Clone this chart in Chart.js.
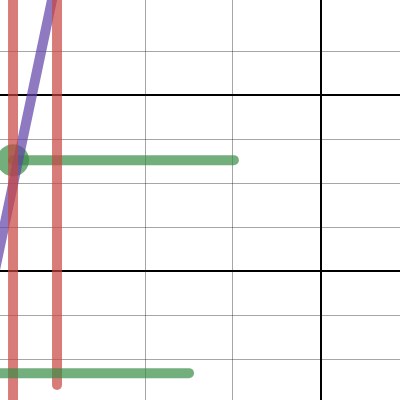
<!DOCTYPE html>
<html><head><style>html,body{margin:0;padding:0;background:#fff}</style>
<script src="https://cdn.jsdelivr.net/npm/chart.js@4/dist/chart.umd.min.js"></script></head>
<body><canvas id="c" width="400" height="400" style="width:400px;height:400px"></canvas>
<script>
const xRange=[-3.648,0.898];
const yRange=[-6.93,2.159];
const redLine1=[{x:-3.5,y:-9},{x:-3.5,y:3}];
const redLine2=[{x:-3,y:-6.59},{x:-3,y:3}];
const purpleLine=[{x:-3.75,y:-4.4},{x:-3.0,y:2.7}];
const greenPoint=[{x:-3.5,y:-1.48}];
const greenLine1=[{x:-3.5,y:-1.48},{x:-0.99,y:-1.48}];
const greenLine2=[{x:-3.8,y:-6.32},{x:-1.5,y:-6.32}];
const red='rgba(199,68,64,0.7)',purple='rgba(96,66,166,0.7)',green='rgba(56,140,70,0.7)';
function ln(data,color){return {data,showLine:true,borderColor:color,borderWidth:10,borderCapStyle:'round',pointRadius:0,fill:false};}
const gridColor=(major)=>ctx=>{const v=ctx.tick.value;if(Math.abs(v-Math.round(v))>1e-6)return 'rgba(0,0,0,0)';return major(Math.round(v))?'#000':'rgba(0,0,0,0.35)';};
const gridWidth=(major)=>ctx=>{const v=Math.round(ctx.tick.value);return major(v)?2:1;};
const mx=v=>v===0, my=v=>v%4===0;
new Chart(document.getElementById('c'),{type:'scatter',
data:{datasets:[ln(greenLine2,green),ln(redLine1,red),ln(redLine2,red),ln(purpleLine,purple),ln(greenLine1,green),
{data:greenPoint,pointRadius:16,pointBackgroundColor:green,pointBorderWidth:0,showLine:false}]},
options:{responsive:false,animation:false,layout:{padding:0,autoPadding:false},plugins:{legend:{display:false},tooltip:{enabled:false}},
scales:{x:{type:'linear',min:xRange[0],max:xRange[1],ticks:{display:false,stepSize:1},border:{display:false},grid:{drawTicks:false,color:gridColor(mx),lineWidth:gridWidth(mx)}},
y:{type:'linear',min:yRange[0],max:yRange[1],ticks:{display:false,stepSize:1},border:{display:false},grid:{drawTicks:false,color:gridColor(my),lineWidth:gridWidth(my)}}}}});
</script></body></html>
